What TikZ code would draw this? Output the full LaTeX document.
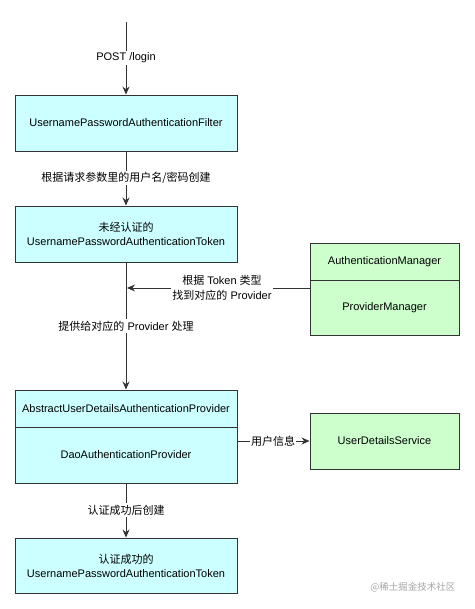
\documentclass[tikz,border=0pt]{standalone}
\usepackage{fontspec}
\setmainfont{Liberation Sans}
\newfontfamily\cjk{Noto Sans CJK SC}
\usetikzlibrary{arrows.meta}
\definecolor{cyanfill}{HTML}{CCFFFF}
\definecolor{greenfill}{HTML}{CCFFCC}
\definecolor{edgecol}{HTML}{333333}
\begin{document}
\begin{tikzpicture}[x=1pt,y=-1pt,
  box/.style={draw=edgecol, line width=0.9pt, inner sep=0pt, align=center, font=\fontsize{11}{14}\selectfont},
  cbox/.style={box, fill=cyanfill, minimum width=222pt},
  gbox/.style={box, fill=greenfill, minimum width=149pt},
  conn/.style={draw=edgecol, line width=0.9pt, -{Stealth[length=8pt,width=7pt]}},
  lbl/.style={fill=white, inner sep=1.5pt, align=center, font=\fontsize{11}{14.5}\selectfont},
]
\useasboundingbox (0,0) rectangle (474,609);
\fill[white] (0,0) rectangle (474,609);

\node[cbox, minimum height=56pt] (filter) at (126,123) {UsernamePasswordAuthenticationFilter};
\node[cbox, minimum height=56pt] (tok1) at (126,234) {{\cjk 未经认证的}\\UsernamePasswordAuthenticationToken};
\node[gbox, minimum height=37pt] (mgrA) at (384.5,261.5) {AuthenticationManager};
\node[gbox, minimum height=55pt] (mgrB) at (384.5,307.5) {ProviderManager};
\node[cbox, minimum height=37pt] (provA) at (126,408.5) {AbstractUserDetailsAuthenticationProvider};
\node[cbox, minimum height=56pt] (provB) at (126,455) {DaoAuthenticationProvider};
\node[gbox, minimum height=56pt] (uds) at (384.5,441) {UserDetailsService};
\node[cbox, minimum height=55pt] (tok2) at (126,565.5) {{\cjk 认证成功的}\\UsernamePasswordAuthenticationToken};

\coordinate (start) at (126,22);
\coordinate (mgrout) at (310,288);
\coordinate (join) at (127,288);

\draw[conn] (start) -- (filter.north);
\node[lbl] (l1) at (126,58) {POST /login};

\draw[conn] (filter.south) -- (tok1.north);
\node[lbl] (l2) at (126,178) {\cjk 根据请求参数里的用户名/密码创建};

\draw[conn] (tok1.south) -- (provA.north);
\node[lbl] (l3) at (126,326) {{\cjk 提供给对应的} Provider {\cjk 处理}};

\draw[conn] (mgrout) -- (join);
\node[lbl] (l4) at (222,288) {{\cjk 根据} Token {\cjk 类型}\\{\cjk 找到对应的} Provider};

\draw[conn] (provB.east |- uds.west) -- (uds.west);
\node[lbl, inner sep=1pt] (l5) at (273,441) {\cjk 用户信息};

\draw[conn] (provB.south) -- (tok2.north);
\node[lbl] (l6) at (126,510) {\cjk 认证成功后创建};

\node[text=black!35, font=\cjk\fontsize{9.5}{11}\selectfont, anchor=east] (wm) at (459,587) {@稀土掘金技术社区};
\end{tikzpicture}
\end{document}
